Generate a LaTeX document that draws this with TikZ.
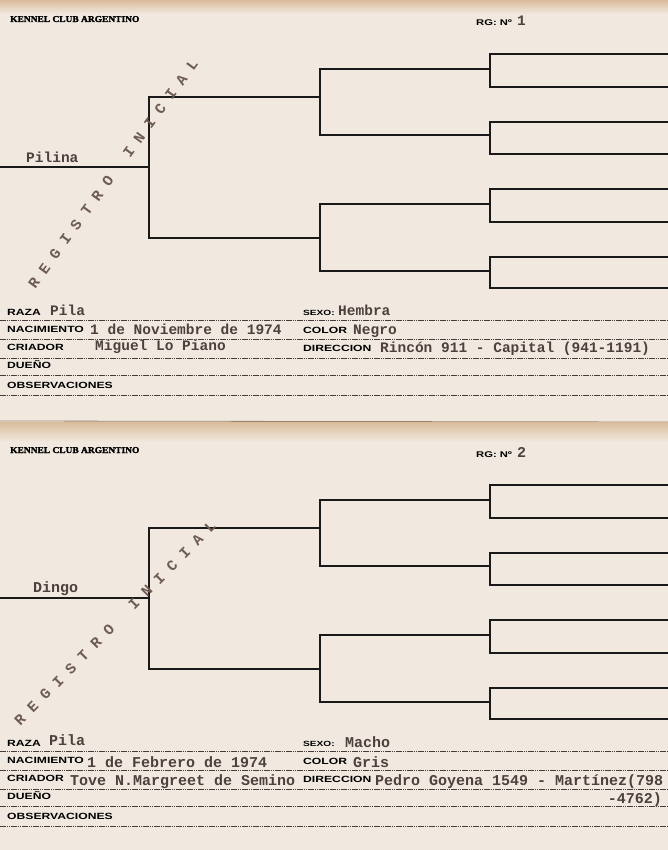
\documentclass[tikz,border=0pt]{standalone}
\usepackage{fontspec}
\usetikzlibrary{calc, positioning}
\newfontfamily\typefont{Liberation Mono}
\newfontfamily\formfont[FakeStretch=1.35]{Liberation Sans}
\newfontfamily\clubfont[BoldFeatures={FakeBold=2}, FakeStretch=1.05]{Liberation Serif}
\definecolor{KennelPaper}{RGB}{241, 233, 224}
\definecolor{KennelEdge}{RGB}{218, 188, 155}
\definecolor{KennelInk}{RGB}{78, 64, 60}
\definecolor{KennelFaint}{RGB}{110, 92, 82}
\definecolor{KennelRule}{RGB}{70, 60, 58}

\tikzset{
    pedline/.style={line width=2.1pt, color=black!90},
    dotrule/.style={line width=0.9pt, color=KennelRule, dash pattern=on 1.6pt off 0.6pt},
    formlabel/.style={font=\formfont\bfseries\fontsize{9}{10}\selectfont, anchor=base west, inner sep=0pt},
    smalllabel/.style={formlabel, font=\formfont\bfseries\fontsize{7.5}{8}\selectfont},
    clubtitle/.style={font=\clubfont\bfseries\fontsize{9}{10}\selectfont, anchor=base west, inner sep=0pt},
    typed/.style={font=\typefont\bfseries\fontsize{14.5}{15}\selectfont, color=KennelInk, anchor=base west, inner sep=0pt},
    stamp/.style={font=\typefont\bfseries\fontsize{15}{15}\selectfont, color=KennelFaint, inner sep=0pt}
}

% printed part of one card (header, pedigree brackets, field rules and labels)
\newcommand{\kennelframe}[1]{%
    % --- Header ---
    \node[clubtitle] (#1-club) at (10,22) {KENNEL CLUB ARGENTINO};
    \node[formlabel, font=\formfont\bfseries\fontsize{8.3}{9}\selectfont] (#1-rg) at (476,26) {RG: Nº};

    % --- Pedigree brackets ---
    \coordinate (#1-root) at (0,167);
    \coordinate (#1-sire) at (320,97);
    \coordinate (#1-dam) at (320,238);
    \draw[pedline] (#1-root) -- (#1-root-|149,0);
    \draw[pedline] (#1-sire) -- (#1-sire-|149,0) -- (#1-dam-|149,0) -- (#1-dam);
    \foreach \t/\b in {69/135, 204/271} {
        \draw[pedline] (490,\t) -- (320,\t) -- (320,\b) -- (490,\b);
    }
    \foreach \t/\b in {54/87, 122/154, 189/222, 257/288} {
        \draw[pedline] (668,\t) -- (490,\t) -- (490,\b) -- (668,\b);
    }

    % --- Field rules ---
    \foreach \y in {320, 339, 358, 375, 395} {
        \draw[dotrule] (0,\y) -- (668,\y);
    }

    % --- Field labels ---
    \node[formlabel] (#1-raza) at (7,315) {RAZA};
    \node[formlabel] (#1-nac) at (7,332) {NACIMIENTO};
    \node[formlabel] (#1-cri) at (7,350) {CRIADOR};
    \node[formlabel] (#1-due) at (7,368) {DUEÑO};
    \node[formlabel] (#1-obs) at (7,388) {OBSERVACIONES};
    \node[smalllabel] (#1-sexo) at (303,315) {SEXO:};
    \node[formlabel] (#1-color) at (303,333) {COLOR};
    \node[formlabel] (#1-dir) at (303,351) {DIRECCION};
}

\begin{document}
\begin{tikzpicture}[x=1pt, y=-1pt]
    \useasboundingbox (0,0) rectangle (668,850);

    % --- Paper ---
    \fill[KennelPaper] (0,0) rectangle (668,850);
    \shade[top color=KennelEdge, bottom color=KennelPaper] (0,0) rectangle (668,14);
    \draw[KennelEdge!70!black, line width=0.8pt] (0,421) -- (668,422);
    \shade[top color=KennelEdge, bottom color=KennelPaper] (0,422) rectangle (668,442);

    % --- Upper card ---
    \kennelframe{a}
    \node[typed] (a-num) at (517,26) {1};
    \node[typed] (a-name) at (26,163) {Pilina};
    \foreach \ch/\k in {R/0,E/1,G/2,I/3,S/4,T/5,R/6,O/7,I/9,N/10,I/11,C/12,I/13,A/14,L/15} {
        \node[stamp, rotate=54] (a-st\k) at ($(34,283)+\k*(10.53,-14.53)$) {\ch};
    }
    \node[typed] (a-raza) at (50,315) {Pila};
    \node[typed] (a-nac) at (90,334) {1 de Noviembre de 1974};
    \node[typed] (a-cri) at (95,350) {Miguel Lo Piano};
    \node[typed] (a-sexo) at (338,315) {Hembra};
    \node[typed] (a-color) at (353,334) {Negro};
    \node[typed] (a-dir) at (380,352) {Rincón 911 - Capital (941-1191)};

    % --- Lower card ---
    \begin{scope}[yshift=-431pt, typed/.append style={font=\typefont\bfseries\fontsize{15}{16}\selectfont}]
        \kennelframe{b}
        \node[typed] (b-num) at (517,26) {2};
        \node[typed] (b-name) at (33,161) {Dingo};
        \foreach \ch/\k in {R/0,E/1,G/2,I/3,S/4,T/5,R/6,O/7,I/9,N/10,I/11,C/12,I/13,A/14,L/15} {
            \node[stamp, rotate=45.5] (b-st\k) at ($(20,289)+\k*(12.67,-12.87)$) {\ch};
        }
        \node[typed] (b-raza) at (49,314) {Pila};
        \node[typed] (b-nac) at (87,336) {1 de Febrero de 1974};
        \node[typed] (b-cri) at (70,354) {Tove N.Margreet de Semino};
        \node[typed] (b-sexo) at (345,316) {Macho};
        \node[typed] (b-color) at (353,336) {Gris};
        \node[typed] (b-dir) at (375,354) {Pedro Goyena 1549 - Martínez(798};
        \node[typed, anchor=base east] (b-dir2) at (662,372) {-4762)};
    \end{scope}

\end{tikzpicture}
\end{document}
